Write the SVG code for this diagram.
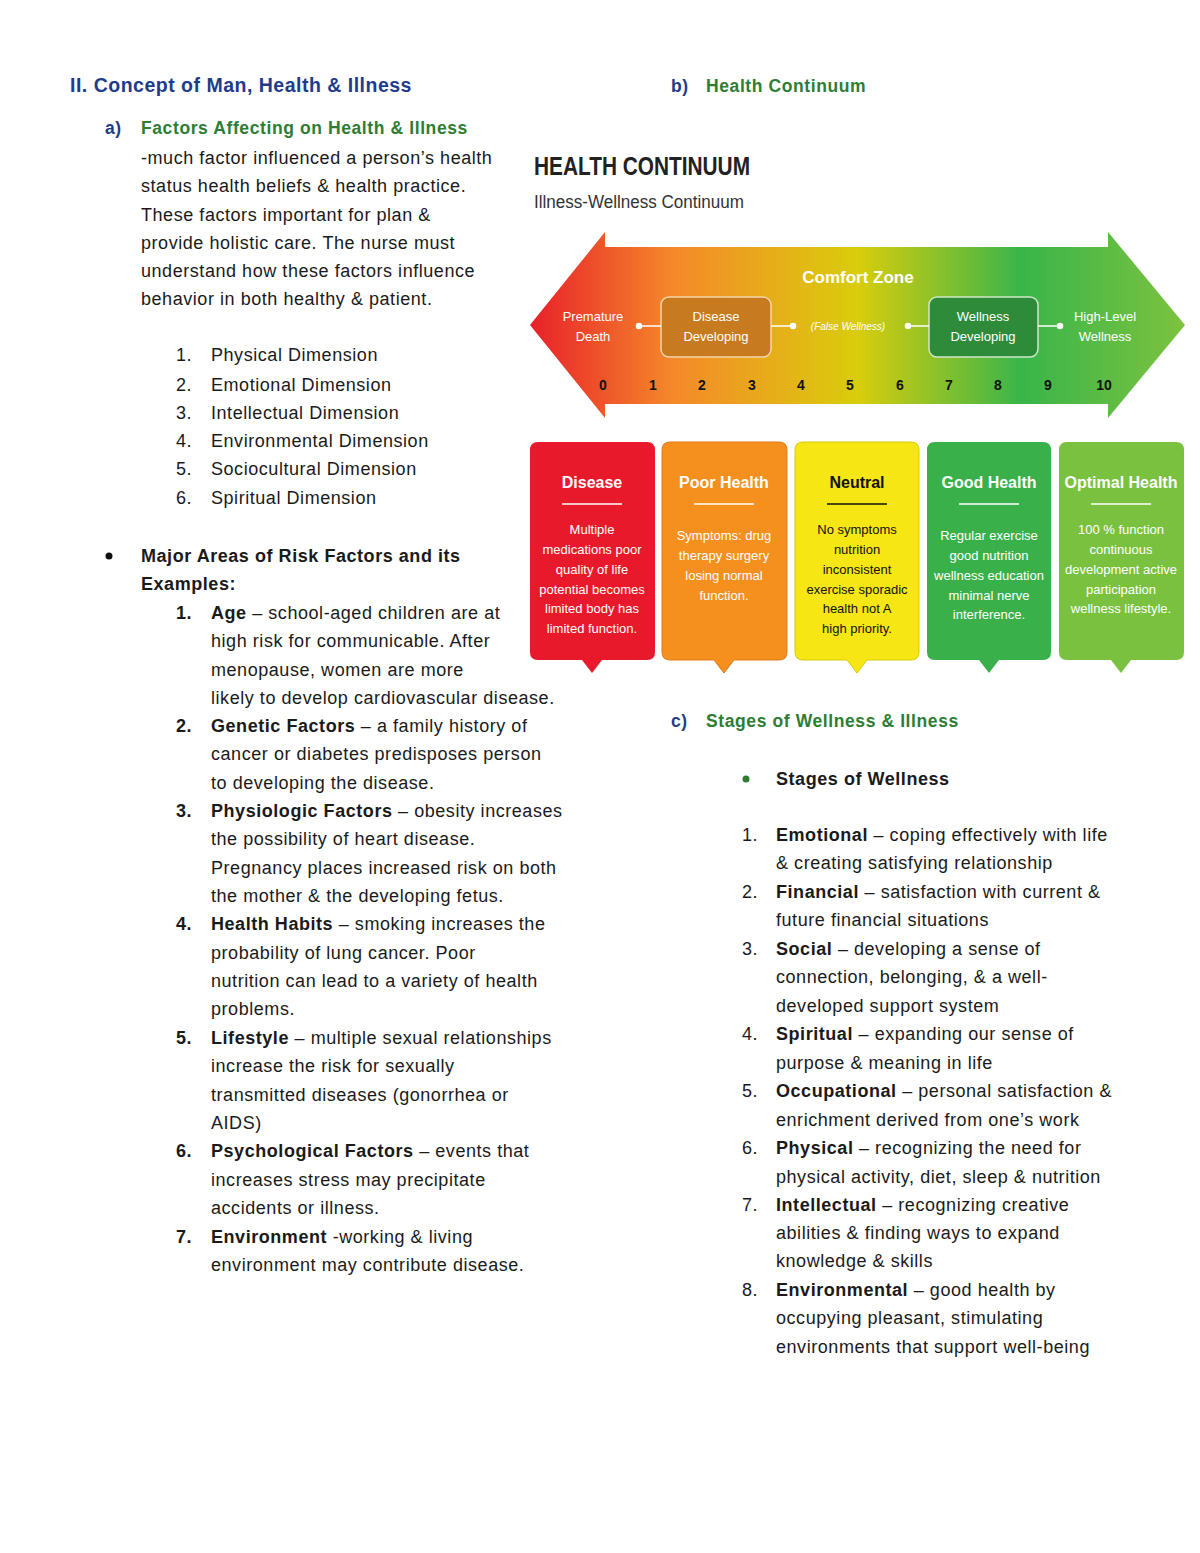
<svg xmlns="http://www.w3.org/2000/svg" width="1200" height="1553" viewBox="0 0 1200 1553">
<defs>
<style>
text{font-family:"Liberation Sans",Arial,sans-serif;}
.t{font-size:18px;fill:#1a1a1a;letter-spacing:0.55px;}
.b{font-weight:bold;}
.h{font-size:17.5px;font-weight:bold;fill:#2e7d32;letter-spacing:0.6px;}
.bt{font-size:13px;fill:#fff;text-anchor:middle;}
.bh{font-size:16px;font-weight:bold;fill:#fff;text-anchor:middle;}
.ar{font-size:13px;fill:#fff;text-anchor:middle;}
.num{font-size:14px;font-weight:bold;fill:#111;text-anchor:middle;}
</style>
<linearGradient id="g" x1="530" y1="0" x2="1185" y2="0" gradientUnits="userSpaceOnUse">
<stop offset="0" stop-color="#e8202a"/><stop offset="0.22" stop-color="#f5892a"/><stop offset="0.5" stop-color="#d9cd0c"/><stop offset="0.75" stop-color="#39b54a"/><stop offset="1" stop-color="#7dc23f"/>
</linearGradient>
</defs>
<rect width="1200" height="1553" fill="#fff"/>
<g id="left">
<text x="70" y="92" font-size="19.5" fill="#1f3c8c" font-weight="bold" letter-spacing="0.5">II. Concept of Man, Health &amp; Illness</text>
<text x="105" y="134" class="h" style="fill:#1f3c8c">a)</text>
<text x="141" y="134" class="h">Factors Affecting on Health &amp; Illness</text>
<text class="t" x="141" y="164">-much factor influenced a person’s health</text>
<text class="t" x="141" y="192">status health beliefs &amp; health practice.</text>
<text class="t" x="141" y="221">These factors important for plan &amp;</text>
<text class="t" x="141" y="249">provide holistic care. The nurse must</text>
<text class="t" x="141" y="277">understand how these factors influence</text>
<text class="t" x="141" y="305">behavior in both healthy &amp; patient.</text>
<g class="t">
<text x="176" y="361">1.</text><text x="211" y="361">Physical Dimension</text>
<text x="176" y="391">2.</text><text x="211" y="391">Emotional Dimension</text>
<text x="176" y="419">3.</text><text x="211" y="419">Intellectual Dimension</text>
<text x="176" y="447">4.</text><text x="211" y="447">Environmental Dimension</text>
<text x="176" y="475">5.</text><text x="211" y="475">Sociocultural Dimension</text>
<text x="176" y="504">6.</text><text x="211" y="504">Spiritual Dimension</text>
</g>
<circle cx="109" cy="556" r="3.5" fill="#111"/>
<text class="t b" x="141" y="562">Major Areas of Risk Factors and its</text>
<text class="t b" x="141" y="590">Examples:</text>
<g class="t">
<text x="176" y="619" class="b">1.</text><text x="211" y="619"><tspan class="b">Age</tspan> – school-aged children are at</text>
<text x="211" y="647">high risk for communicable. After</text>
<text x="211" y="676">menopause, women are more</text>
<text x="211" y="704">likely to develop cardiovascular disease.</text>
<text x="176" y="732" class="b">2.</text><text x="211" y="732"><tspan class="b">Genetic Factors</tspan> – a family history of</text>
<text x="211" y="760">cancer or diabetes predisposes person</text>
<text x="211" y="789">to developing the disease.</text>
<text x="176" y="817" class="b">3.</text><text x="211" y="817"><tspan class="b">Physiologic Factors</tspan> – obesity increases</text>
<text x="211" y="845">the possibility of heart disease.</text>
<text x="211" y="874">Pregnancy places increased risk on both</text>
<text x="211" y="902">the mother &amp; the developing fetus.</text>
<text x="176" y="930" class="b">4.</text><text x="211" y="930"><tspan class="b">Health Habits</tspan> – smoking increases the</text>
<text x="211" y="959">probability of lung cancer. Poor</text>
<text x="211" y="987">nutrition can lead to a variety of health</text>
<text x="211" y="1015">problems.</text>
<text x="176" y="1044" class="b">5.</text><text x="211" y="1044"><tspan class="b">Lifestyle</tspan> – multiple sexual relationships</text>
<text x="211" y="1072">increase the risk for sexually</text>
<text x="211" y="1101">transmitted diseases (gonorrhea or</text>
<text x="211" y="1129">AIDS)</text>
<text x="176" y="1157" class="b">6.</text><text x="211" y="1157"><tspan class="b">Psychological Factors</tspan> – events that</text>
<text x="211" y="1186">increases stress may precipitate</text>
<text x="211" y="1214">accidents or illness.</text>
<text x="176" y="1243" class="b">7.</text><text x="211" y="1243"><tspan class="b">Environment</tspan> -working &amp; living</text>
<text x="211" y="1271">environment may contribute disease.</text>
</g>
</g>
<g id="right">
<text x="671" y="92" class="h" style="fill:#1f3c8c">b)</text>
<text x="706" y="92" class="h">Health Continuum</text>
<text x="534" y="175" font-size="26" font-weight="bold" fill="#222" textLength="216" lengthAdjust="spacingAndGlyphs">HEALTH CONTINUUM</text>
<text x="534" y="208" font-size="18" fill="#333" textLength="210" lengthAdjust="spacingAndGlyphs">Illness-Wellness Continuum</text>
</g>
<g id="arrow">
<polygon points="530,325 605,232 605,247 1108,247 1108,232 1185,325 1108,418 1108,404 605,404 605,418" fill="url(#g)"/>
<text x="858" y="283" font-size="17" font-weight="bold" fill="#fff" text-anchor="middle">Comfort Zone</text>
<text class="ar" x="593" y="321">Premature</text><text class="ar" x="593" y="341">Death</text>
<rect x="661" y="297" width="110" height="60" rx="8" fill="#c87a1e" stroke="#f3d6a8" stroke-width="1.5"/>
<text class="ar" x="716" y="321">Disease</text><text class="ar" x="716" y="341">Developing</text>
<text x="848" y="330" font-size="10" font-style="italic" fill="#fff" text-anchor="middle">(False Wellness)</text>
<rect x="929" y="297" width="109" height="60" rx="8" fill="#2e8b3a" stroke="#cfe8c8" stroke-width="1.5"/>
<text class="ar" x="983" y="321">Wellness</text><text class="ar" x="983" y="341">Developing</text>
<text class="ar" x="1105" y="321">High-Level</text><text class="ar" x="1105" y="341">Wellness</text>
<g stroke="#fff" stroke-width="1.5" fill="#fff">
<line x1="639" y1="326" x2="661" y2="326"/><circle cx="639" cy="326" r="2.5"/>
<line x1="771" y1="326" x2="793" y2="326"/><circle cx="793" cy="326" r="2.5"/>
<line x1="908" y1="326" x2="929" y2="326"/><circle cx="908" cy="326" r="2.5"/>
<line x1="1038" y1="326" x2="1060" y2="326"/><circle cx="1060" cy="326" r="2.5"/>
</g>
<g class="num">
<text x="603" y="390">0</text><text x="653" y="390">1</text><text x="702" y="390">2</text><text x="752" y="390">3</text><text x="801" y="390">4</text><text x="850" y="390">5</text><text x="900" y="390">6</text><text x="949" y="390">7</text><text x="998" y="390">8</text><text x="1048" y="390">9</text><text x="1104" y="390">10</text>
</g>
</g>
<g id="box-disease">
<path d="M538,442 H647 Q655,442 655,450 V652 Q655,660 647,660 H602 L592,673 L582,660 H538 Q530,660 530,652 V450 Q530,442 538,442 Z" fill="#e8192a"/>
<text class="bh" x="592" y="488">Disease</text><line x1="562" y1="504" x2="622" y2="504" stroke="#fff" stroke-width="1.5"/>
<text class="bt" x="592" y="534">Multiple</text><text class="bt" x="592" y="554">medications poor</text><text class="bt" x="592" y="574">quality of life</text><text class="bt" x="592" y="594">potential becomes</text><text class="bt" x="592" y="613">limited body has</text><text class="bt" x="592" y="633">limited function.</text>
</g>
<g id="box-poor">
<path d="M670,442 H779 Q787,442 787,450 V652 Q787,660 779,660 H734 L724,673 L714,660 H670 Q662,660 662,652 V450 Q662,442 670,442 Z" fill="#f5901e" stroke="#e07a18"/>
<text class="bh" x="724" y="488">Poor Health</text><line x1="694" y1="504" x2="754" y2="504" stroke="#fff" stroke-width="1.5"/>
<text class="bt" x="724" y="540">Symptoms: drug</text><text class="bt" x="724" y="560">therapy surgery</text><text class="bt" x="724" y="580">losing normal</text><text class="bt" x="724" y="600">function.</text>
</g>
<g id="box-neutral">
<path d="M803,442 H911 Q919,442 919,450 V652 Q919,660 911,660 H867 L857,673 L847,660 H803 Q795,660 795,652 V450 Q795,442 803,442 Z" fill="#f5e614" stroke="#d8c80a"/>
<text class="bh" x="857" y="488" style="fill:#111">Neutral</text><line x1="827" y1="504" x2="887" y2="504" stroke="#111" stroke-width="1.5"/>
<g class="bt" style="fill:#111"><text x="857" y="534">No symptoms</text><text x="857" y="554">nutrition</text><text x="857" y="574">inconsistent</text><text x="857" y="594">exercise sporadic</text><text x="857" y="613">health not A</text><text x="857" y="633">high priority.</text></g>
</g>
<g id="box-good">
<path d="M935,442 H1043 Q1051,442 1051,450 V652 Q1051,660 1043,660 H999 L989,673 L979,660 H935 Q927,660 927,652 V450 Q927,442 935,442 Z" fill="#39b04a"/>
<text class="bh" x="989" y="488">Good Health</text><line x1="959" y1="504" x2="1019" y2="504" stroke="#fff" stroke-width="1.5"/>
<text class="bt" x="989" y="540">Regular exercise</text><text class="bt" x="989" y="560">good nutrition</text><text class="bt" x="989" y="580">wellness education</text><text class="bt" x="989" y="600">minimal nerve</text><text class="bt" x="989" y="619">interference.</text>
</g>
<g id="box-optimal">
<path d="M1067,442 H1176 Q1184,442 1184,450 V652 Q1184,660 1176,660 H1131 L1121,673 L1111,660 H1067 Q1059,660 1059,652 V450 Q1059,442 1067,442 Z" fill="#79c13f"/>
<text class="bh" x="1121" y="488">Optimal Health</text><line x1="1091" y1="504" x2="1151" y2="504" stroke="#fff" stroke-width="1.5"/>
<text class="bt" x="1121" y="534">100 % function</text><text class="bt" x="1121" y="554">continuous</text><text class="bt" x="1121" y="574">development active</text><text class="bt" x="1121" y="594">participation</text><text class="bt" x="1121" y="613">wellness lifestyle.</text>
</g>
<g id="stages">
<text x="671" y="727" class="h" style="fill:#1f3c8c">c)</text>
<text x="706" y="727" class="h">Stages of Wellness &amp; Illness</text>
<circle cx="746" cy="779" r="3.5" fill="#2e7d32"/>
<text class="t b" x="776" y="785">Stages of Wellness</text>
<g class="t">
<text x="742" y="841">1.</text><text x="776" y="841"><tspan class="b">Emotional</tspan> – coping effectively with life</text>
<text x="776" y="869">&amp; creating satisfying relationship</text>
<text x="742" y="898">2.</text><text x="776" y="898"><tspan class="b">Financial</tspan> – satisfaction with current &amp;</text>
<text x="776" y="926">future financial situations</text>
<text x="742" y="955">3.</text><text x="776" y="955"><tspan class="b">Social</tspan> – developing a sense of</text>
<text x="776" y="983">connection, belonging, &amp; a well-</text>
<text x="776" y="1012">developed support system</text>
<text x="742" y="1040">4.</text><text x="776" y="1040"><tspan class="b">Spiritual</tspan> – expanding our sense of</text>
<text x="776" y="1069">purpose &amp; meaning in life</text>
<text x="742" y="1097">5.</text><text x="776" y="1097"><tspan class="b">Occupational</tspan> – personal satisfaction &amp;</text>
<text x="776" y="1126">enrichment derived from one’s work</text>
<text x="742" y="1154">6.</text><text x="776" y="1154"><tspan class="b">Physical</tspan> – recognizing the need for</text>
<text x="776" y="1183">physical activity, diet, sleep &amp; nutrition</text>
<text x="742" y="1211">7.</text><text x="776" y="1211"><tspan class="b">Intellectual</tspan> – recognizing creative</text>
<text x="776" y="1239">abilities &amp; finding ways to expand</text>
<text x="776" y="1267">knowledge &amp; skills</text>
<text x="742" y="1296">8.</text><text x="776" y="1296"><tspan class="b">Environmental</tspan> – good health by</text>
<text x="776" y="1324">occupying pleasant, stimulating</text>
<text x="776" y="1353">environments that support well-being</text>
</g>
</g>
</svg>
